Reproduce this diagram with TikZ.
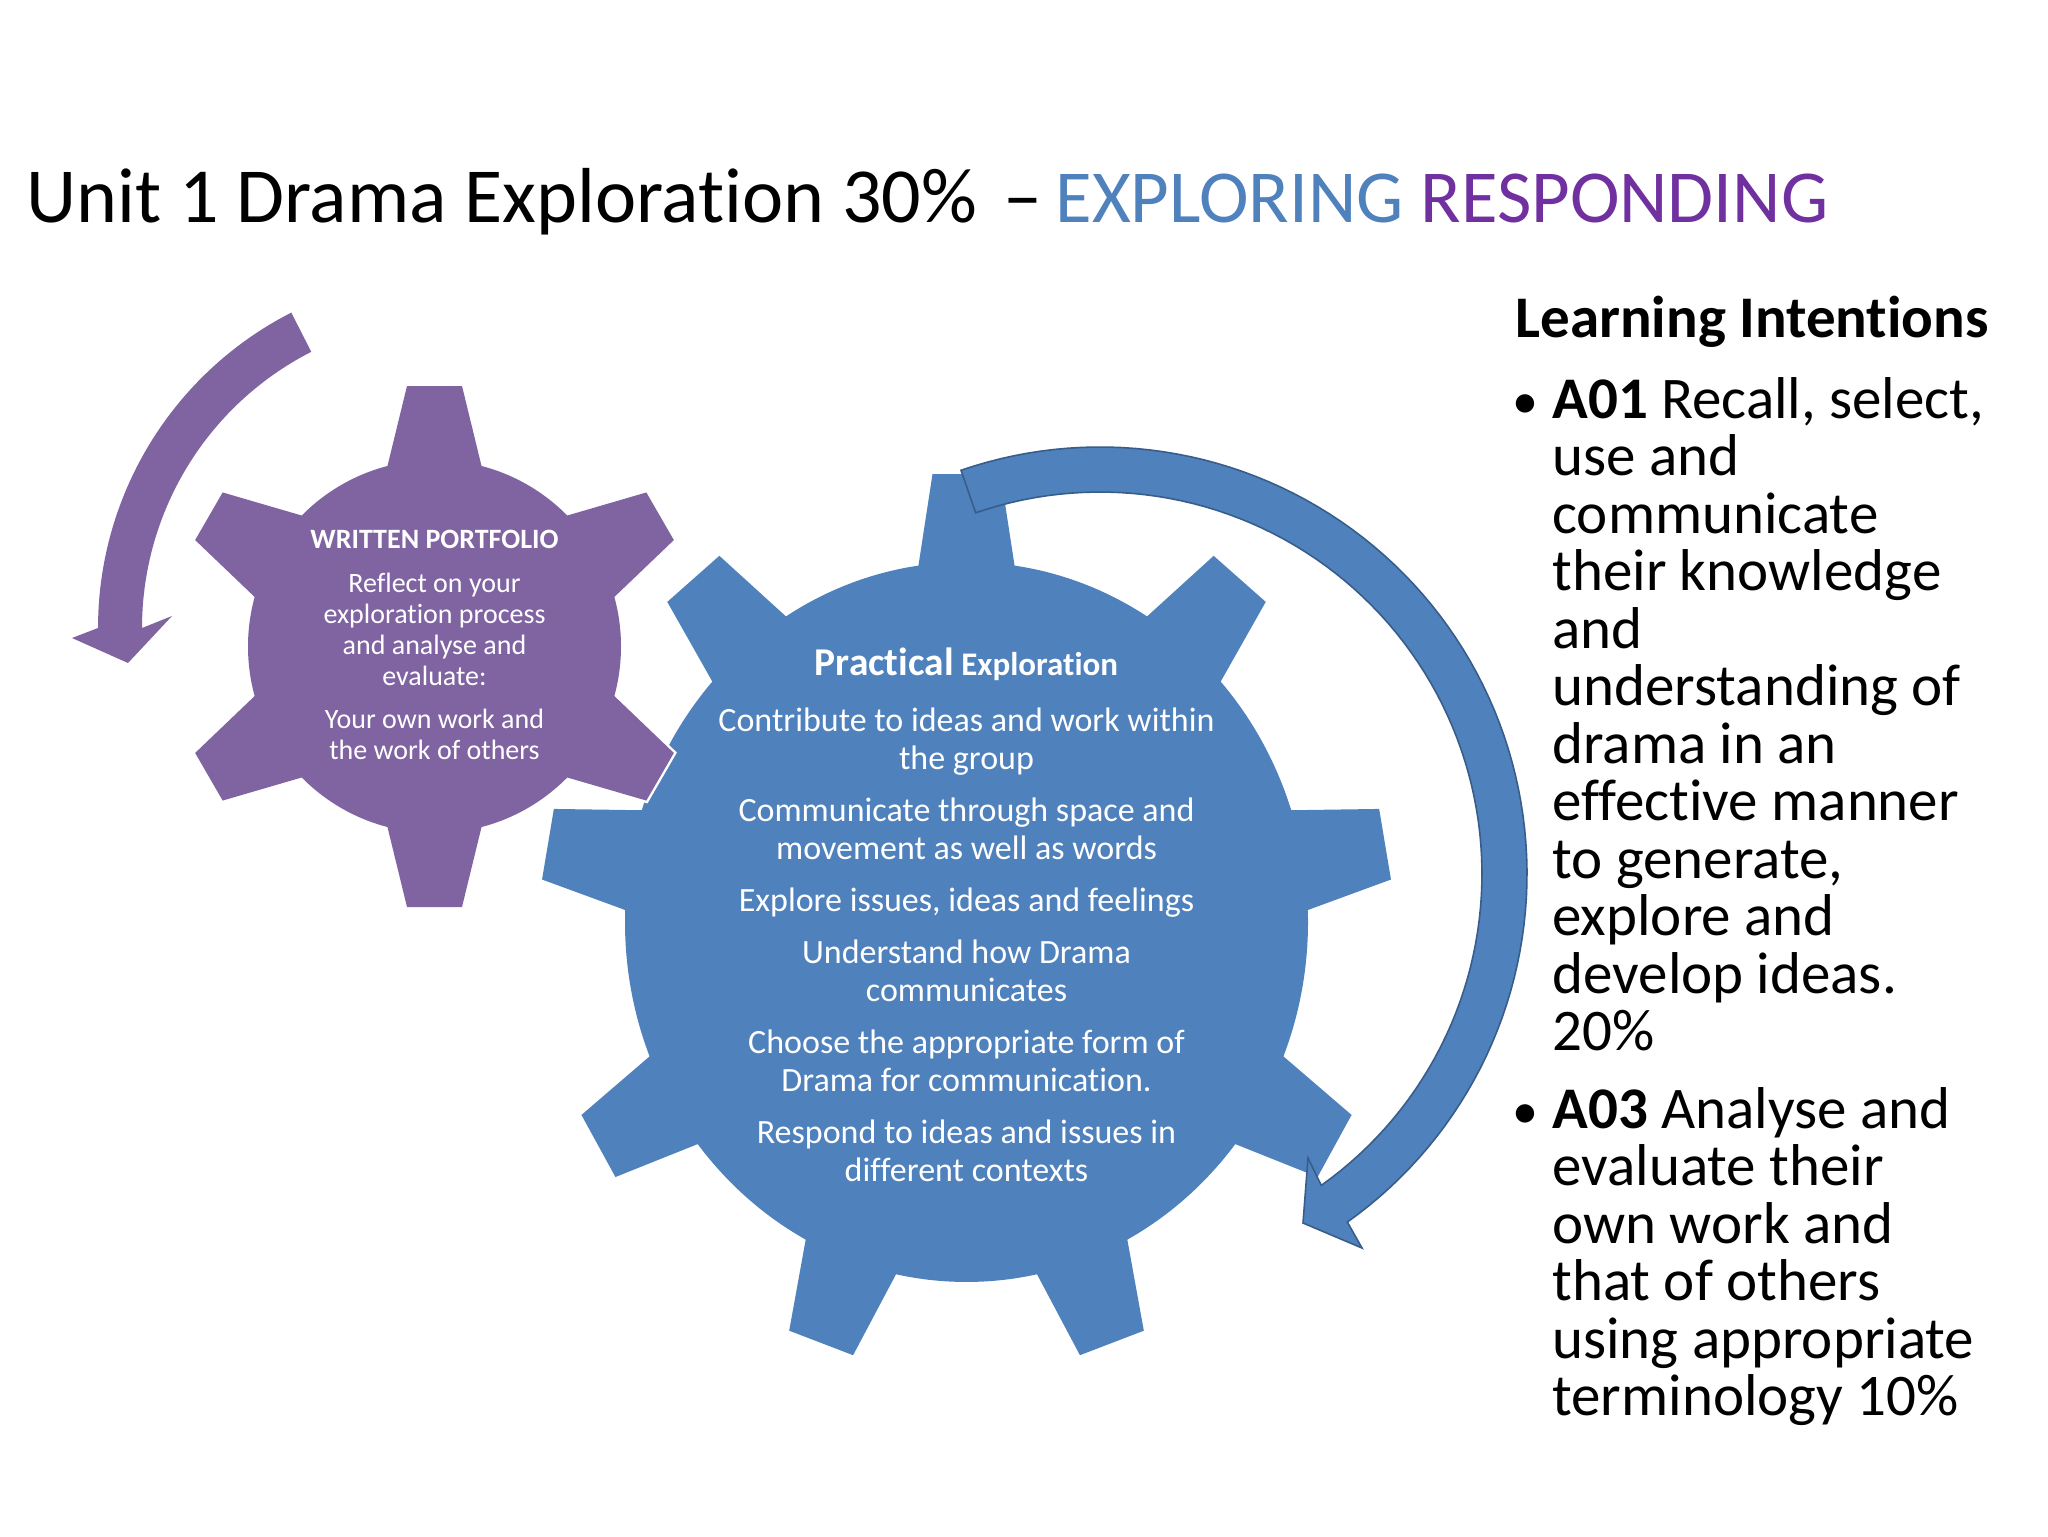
\documentclass[tikz,border=0pt]{standalone}
\usepackage{fontspec}
\setmainfont{Carlito}[Ligatures={TeX,NoCommon}]
\definecolor{gearpurple}{HTML}{8064A2}
\definecolor{gearblue}{HTML}{4F81BD}
\definecolor{arrowedge}{HTML}{385D8A}
\definecolor{titleblue}{HTML}{4F81BD}
\definecolor{titlepurple}{HTML}{7030A0}
\tikzset{
  geartext/.style={inner sep=0pt, text=white},
  sidetext/.style={inner sep=0pt, text=black},
  purplefill/.style={fill=gearpurple},
  bluefill/.style={fill=gearblue},
}
\begin{document}
\begin{tikzpicture}[x=0.5pt,y=-0.5pt]
\useasboundingbox (0,0) rectangle (2048,1536);
\fill[white] (0,0) rectangle (2048,1536);

% title
\node[sidetext, anchor=base west, font=\fontsize{39}{45}\selectfont] (title) at (26,222)
  {Unit 1 Drama Exploration 30\% \hspace{4.5pt}–\hspace{-2.4pt} {\fontsize{37.4}{45}\selectfont\textcolor{titleblue}{EXPLORING} \textcolor{titlepurple}{RESPONDING}}};

% purple curved arrow
\fill[purplefill] plot[domain=243:180,samples=50] ({452+354*cos(\x)},{628+354*sin(\x)})
  -- (72,638) -- (128,663) -- (172,616)
  -- plot[domain=180:243,samples=50] ({452+310*cos(\x)},{628+310*sin(\x)}) -- cycle;

% blue gear
\begin{scope}[shift={(966.5,922)}, yscale=1.054]
  \fill[bluefill] (0,0) circle[radius=341.5];
  \foreach \a in {10,50,...,330}
    \fill[bluefill, rotate=\a] (320,-51) -- (425,-34) -- (425,34) -- (320,51) -- cycle;
\end{scope}

% purple gear (white rim, then fill)
\begin{scope}[shift={(434.5,646.5)}]
  \filldraw[white, line width=2.4pt] (0,0) circle[radius=186.5];
  \foreach \a in {30,90,...,330}
    \filldraw[white, line width=2.4pt, rotate=\a] (170,-49.6) -- (260.5,-27.5) -- (260.5,27.5) -- (170,49.6) -- cycle;
  \fill[purplefill] (0,0) circle[radius=186.5];
  \foreach \a in {30,90,...,330}
    \fill[purplefill, rotate=\a] (170,-49.6) -- (260.5,-27.5) -- (260.5,27.5) -- (170,49.6) -- cycle;
\end{scope}

% blue curved arrow
\filldraw[fill=gearblue, draw=arrowedge, line width=0.8pt]
  plot[domain=-109:54.6,samples=90] ({1100+427*cos(\x)},{874+427*sin(\x)})
  -- (1362,1248) -- (1303,1223) -- (1308,1158)
  -- plot[domain=54.6:-109,samples=90] ({1100+382*cos(\x)},{874+382*sin(\x)}) -- cycle;

% purple gear text
\node[geartext, anchor=base] (portfolio) at (434.5,548)
  {\parbox[t]{200pt}{\centering\fontsize{14}{15.5}\selectfont\lineskiplimit=-100pt
   \textbf{WRITTEN PORTFOLIO}\\[6.5pt]
   Reflect on your\\
   exploration process\\
   and analyse and\\
   evaluate:\\[6pt]
   Your own work and\\
   the work of others}};

% blue gear text
\node[geartext, anchor=base] (practical) at (966.5,675)
  {\parbox[t]{320pt}{\centering\fontsize{17}{19}\selectfont\lineskiplimit=-100pt
   {\bfseries\fontsize{19.7}{19}\selectfont Practical} {\bfseries\fontsize{16.5}{19}\selectfont Exploration}\\[9pt]
   Contribute to ideas and work within\\
   the group\\[7pt]
   Communicate through space and\\
   movement as well as words\\[7pt]
   Explore issues, ideas and feelings\\[7pt]
   Understand how Drama\\
   communicates\\[7pt]
   Choose the appropriate form of\\
   Drama for communication.\\[7pt]
   Respond to ideas and issues in\\
   different contexts}};

% learning intentions
\node[sidetext, anchor=base west, font=\bfseries\fontsize{29.5}{30}\selectfont] (li) at (1515,337) {Learning Intentions};
\node[sidetext, anchor=base west, font=\fontsize{26}{30}\selectfont] (bulone) at (1512,418) {•};
\node[sidetext, anchor=base west] (aoone) at (1552,418)
  {\parbox[t]{400pt}{\raggedright\fontsize{29.5}{28.75}\selectfont\lineskiplimit=-100pt
   \textbf{A01} Recall, select,\\
   use and\\
   communicate\\
   their knowledge\\
   and\\
   understanding of\\
   drama in an\\
   effective manner\\
   to generate,\\
   explore and\\
   develop ideas.\\
   20\%}};
\node[sidetext, anchor=base west, font=\fontsize{26}{30}\selectfont] (bultwo) at (1512,1128) {•};
\node[sidetext, anchor=base west] (aothree) at (1552,1128)
  {\parbox[t]{400pt}{\raggedright\fontsize{29.5}{28.75}\selectfont\lineskiplimit=-100pt
   \textbf{A03} Analyse and\\
   evaluate their\\
   own work and\\
   that of others\\
   using appropriate\\
   terminology 10\%}};
\end{tikzpicture}
\end{document}
